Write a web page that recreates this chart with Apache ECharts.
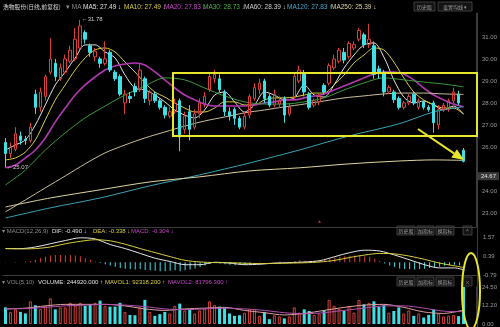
<!DOCTYPE html>
<html><head><meta charset="utf-8">
<script src="https://cdn.jsdelivr.net/npm/echarts@6/dist/echarts.min.js"></script>
<style>html,body{margin:0;padding:0;background:#000;}#c{width:500px;height:327px;}</style>
</head><body><div id="c"></div>
<script>
// ---------- data ----------
const categories = Array.from({length: 95}, (_, i) => 'D' + (i + 1));
// [open, close, low, high]
const ohlc = [
 [26.2,25.7,25.07,26.4],[25.7,26.0,25.5,26.2],[25.9,26.6,25.8,26.9],[26.5,26.3,26.1,26.7],[26.35,26.3,26.1,26.5],
 [26.3,26.9,26.2,27.1],[28.4,27.8,27.5,28.6],[27.8,28.5,27.6,28.7],[28.3,29.2,28.1,29.3],[29.4,30.0,29.3,30.95],
 [29.8,29.2,29.0,30.0],[29.1,29.6,29.0,29.8],[29.4,30.0,29.3,30.2],[29.9,30.4,29.8,30.6],[30.0,30.9,29.9,31.4],
 [30.5,31.5,30.4,31.78],[31.2,30.9,30.7,31.3],[30.6,30.3,30.1,30.7],[30.1,30.35,29.9,30.5],[30.0,29.8,29.6,30.1],
 [29.8,30.0,29.7,30.8],[30.3,29.5,29.4,30.4],[29.4,29.1,29.0,29.5],[29.2,28.4,28.3,29.3],[28.0,28.4,27.5,28.6],
 [28.3,28.2,28.0,28.5],[28.75,28.5,28.3,28.9],[28.6,29.5,28.5,29.8],[29.1,28.2,28.0,29.2],[28.1,28.5,27.9,28.6],
 [28.4,28.1,28.0,28.5],[28.1,27.8,27.7,28.2],[27.8,27.45,27.3,27.9],[27.4,27.6,27.3,27.8],[27.6,28.0,27.5,28.2],
 [28.1,26.45,25.8,28.2],[26.8,27.4,26.6,27.6],[27.6,26.8,26.3,27.9],[26.9,27.5,26.8,27.7],[27.5,28.0,27.3,28.2],
 [27.9,28.3,27.8,28.5],[28.6,29.2,28.5,29.4],[29.1,29.3,28.9,29.5],[29.1,28.6,28.5,29.3],[28.5,27.6,27.4,28.6],
 [27.6,27.4,27.2,27.8],[27.7,27.3,27.0,27.8],[27.3,26.9,26.8,27.4],[26.9,27.4,26.8,27.6],[27.45,28.3,27.3,28.4],
 [28.2,28.7,28.1,28.9],[28.6,28.9,28.4,29.1],[29.0,28.2,28.0,29.1],[28.3,27.9,27.8,28.4],[27.9,28.4,27.8,28.6],
 [27.95,28.1,27.8,28.3],[28.2,27.45,27.1,28.3],[27.5,27.8,27.4,28.0],[28.3,29.2,28.2,29.4],[29.0,29.5,28.9,29.7],
 [29.3,28.5,28.3,29.5],[28.4,27.8,27.7,28.5],[27.9,28.1,27.8,28.2],[28.05,28.3,27.9,28.4],[28.8,28.5,28.4,28.9],
 [28.9,29.7,28.8,29.8],[29.6,30.0,29.5,30.2],[29.9,30.4,29.8,30.5],[30.3,29.95,29.8,30.5],[30.1,30.7,30.0,30.8],
 [30.5,30.65,30.4,30.8],[30.9,31.3,30.8,31.4],[31.1,30.65,30.5,31.2],[30.65,30.9,30.5,31.6],[30.6,29.3,29.1,30.8],
 [29.55,29.4,29.1,29.7],[29.4,28.5,28.3,29.5],[28.5,28.7,28.4,28.8],[28.5,28.15,28.0,28.6],[28.2,27.8,27.7,28.3],
 [27.8,28.0,27.7,28.1],[28.0,28.3,27.9,28.4],[28.4,28.0,27.9,28.5],[27.8,28.1,27.7,28.2],[28.05,27.8,27.7,28.1],
 [27.8,27.7,27.6,27.9],[28.0,27.1,26.65,28.1],[27.0,27.7,26.8,27.9],[27.7,27.9,27.6,28.0],[27.7,28.1,27.6,28.2],
 [28.1,28.5,28.0,28.7],[28.4,28.0,27.9,28.55],[25.85,25.35,25.3,25.95]
];
// volume, 10k shares
const volume = [
 11,8,9.7,8,7,15,12.4,10,12,17,
 9.7,11,11,14,12,14,12,13,14,15.5,
 12,11.5,11.5,14,8,6,5.8,11,16,8,
 5.4,6.5,8,7,12,13.5,9,9.7,7,9,
 10,15,12.5,11.5,11,7,5.4,5.8,7.5,9.7,
 10,5.4,8,3.2,5.8,5,3.7,5,11,7.5,
 9.7,8.6,6,7,9,16,12,10,8.6,12,
 7.5,16,13,14,15,11.5,12.5,7.5,8.6,11,
 7,9,5.4,7,4.3,6,9.7,7,5,5.5,
 6,5.2,24.49
];
const macdHist = [
 0.02,0.0,-0.02,0.02,0.05,0.08,
 0.15,0.25,0.35,0.42,
 0.45,0.45,0.42,0.45,0.42,0.38,
 0.25,0.15,0.05,-0.05,-0.12,
 -0.2,-0.28,-0.35,-0.4,-0.42,
 -0.45,-0.42,-0.48,-0.5,-0.52,
 -0.55,-0.55,-0.52,-0.5,-0.55,
 -0.5,-0.45,-0.38,-0.3,-0.2,
 -0.1,-0.05,-0.08,-0.12,-0.15,
 -0.18,-0.15,-0.1,-0.05,0.0,
 0.03,0.0,-0.02,0.02,0.05,
 0.0,0.02,0.08,0.12,0.1,
 0.08,0.1,0.12,0.15,0.2,
 0.28,0.35,0.38,0.4,0.42,
 0.4,0.38,0.35,0.22,0.08,
 -0.08,-0.2,-0.3,-0.38,-0.42,
 -0.42,-0.45,-0.42,-0.4,-0.35,
 -0.32,-0.28,-0.22,-0.18,-0.15,
 -0.18,-0.304
];
// moving averages read at sampled candle positions
const idx2 = [0,2,4,6,8,10,12,14,16,18,20,22,24,26,28,30,32,34,36,38,40,42,44,46,48,50,52,54,56,58,60,62,64,66,68,70,72,74,76,78,80,82,84,86,88,90,92];
const ma5 = [25.86,26.09,26.32,27.0,27.91,28.82,29.41,30.05,30.64,30.64,30.32,30.05,29.27,28.68,28.59,28.36,28.05,27.68,27.45,27.32,27.68,28.36,28.5,28.05,27.59,27.91,28.5,28.36,28.14,28.23,28.82,28.36,28.27,28.82,29.59,30.18,30.64,30.73,30.09,29.05,28.27,28.0,28.09,27.91,27.68,27.86,27.49];
const ma10 = [25.41,25.5,25.77,26.32,27.23,28.14,28.82,29.5,30.05,30.41,30.5,30.32,29.86,29.41,28.91,28.5,28.27,28.0,27.77,27.59,27.59,27.77,28.05,28.05,27.91,27.91,28.14,28.23,28.23,28.27,28.36,28.45,28.45,28.82,29.27,29.82,30.18,30.5,30.41,29.86,29.14,28.5,28.14,27.91,27.77,27.77,27.49];
const ma20 = [25.05,25.18,25.5,25.86,26.41,27.14,27.77,28.36,28.82,29.18,29.5,29.68,29.77,29.82,29.73,29.41,29.05,28.68,28.36,28.14,27.95,27.86,27.86,27.86,27.86,27.91,28.0,28.05,28.14,28.14,28.23,28.32,28.41,28.59,28.77,28.95,29.14,29.32,29.41,29.41,29.32,29.05,28.68,28.36,28.14,27.95,27.83];
const idx4 = [0,4,8,12,16,20,24,28,32,36,40,44,48,52,56,60,64,68,72,76,80,84,88,92];
const ma30 = [24.27,24.95,25.86,26.64,27.32,27.86,28.36,28.77,29.14,29.05,28.68,28.32,28.05,27.95,27.95,28.05,28.23,28.59,28.91,29.14,29.05,28.95,28.86,28.73];
const ma60 = [23.05,23.59,24.14,24.68,25.23,25.73,26.09,26.41,26.68,26.95,27.18,27.36,27.55,27.68,27.82,27.95,28.09,28.23,28.32,28.41,28.45,28.45,28.41,28.39];
const idxLong = [0,9,19,29,39,49,59,69,79,86,92];
const ma120 = [22.77,23.23,23.68,24.23,24.73,25.27,25.86,26.5,27.05,27.59,27.83];
const ma250 = [23.27,23.68,24.05,24.41,24.64,24.91,25.05,25.23,25.36,25.41,25.39];
const idx3 = [0,3,6,9,12,15,18,21,24,27,30,33,36,39,42,45,48,51,54,57,60,63,66,69,72,75,78,81,84,87,90,92];
const dif = [0.85,0.85,0.95,1.15,1.35,1.52,1.45,1.1,0.85,0.55,0.25,0.05,-0.15,-0.15,0.0,-0.05,-0.15,-0.12,-0.05,-0.02,0.02,0.1,0.35,0.6,0.75,0.7,0.45,0.15,-0.15,-0.35,-0.35,-0.49];
const dea = [0.85,0.83,0.85,0.95,1.15,1.3,1.4,1.33,1.12,0.85,0.6,0.35,0.12,0.02,-0.02,-0.03,-0.06,-0.08,-0.07,-0.05,-0.03,0.02,0.12,0.3,0.45,0.55,0.52,0.38,0.18,-0.05,-0.22,-0.338];
const mavol1 = [10,10.5,12,13,13,13,12,10,9,10,10.5,11,9,7.5,6,7,9,11,12.5,13,11,8,7,9.23];
const mavol2 = [10,10.2,11,12,12.5,13,12.5,11.5,10,9.5,10,10.5,10,9,7.5,6.8,7.5,9,10.5,12,12,10.5,8.5,8.18];
const priceTicks = [23,24,26,27,28,29,30,31];
const macdTicks = [-0.79,0.39,1.57];
const volTicks = [0,12.2,24.5];
const highMark = [15, 31.78];
const lowMark = [0, 25.07];
const lastPriceTag = 24.67;

// ---------- chart ----------
const FONT = '"Liberation Sans", Arial, sans-serif';
const CJK = '"Noto Sans CJK SC", sans-serif';
const UP = '#d8403c', DOWN = '#3ee0e6', SEP = '#3c3c3c', YEL = '#e8e62a';
const pairs = (idx, vals) => idx.map((k, j) => [k, vals[j]]);

const volData = volume.map((v, i) => {
  const up = ohlc[i][1] >= ohlc[i][0];
  return {value: v, itemStyle: up ? {color: 'rgba(0,0,0,0)', borderColor: UP, borderWidth: 1} : {color: DOWN}};
});
const histData = macdHist.map(v => ({value: v, itemStyle: {color: v >= 0 ? UP : DOWN}}));

function lineS(data, color, ai, width) {
  return {type: 'line', xAxisIndex: ai, yAxisIndex: ai, data, symbol: 'none', smooth: 0.3,
    lineStyle: {color, width: width || 1}, silent: true, z: 3};
}
function xAx(gi, showLine) {
  return {type: 'category', gridIndex: gi, data: categories, boundaryGap: true,
    axisLabel: {show: false}, axisTick: {show: false}, splitLine: {show: false},
    axisLine: {show: showLine, onZero: false, lineStyle: {color: SEP}}};
}
function yAx(gi, min, max, ticks) {
  return {type: 'value', gridIndex: gi, position: 'right', min, max,
    splitLine: {show: false}, axisTick: {show: false},
    axisLine: {show: true, lineStyle: {color: SEP}},
    axisLabel: {customValues: ticks, formatter: v => v.toFixed(2), color: '#9a9a9a', fontSize: 6, margin: 6, fontFamily: FONT}};
}

function txt(x, y, t, color, font, size) {
  return {type: 'text', x, y, z: 100, silent: true,
    style: {text: t, fill: color, font: (size || 6.5) + 'px ' + (font || FONT), verticalAlign: 'middle', align: 'left'}};
}
function btn(x, y, w, h, t) {
  return {type: 'group', x, y, z: 100, silent: true, children: [
    {type: 'rect', shape: {x: 0, y: 0, width: w, height: h}, style: {fill: '#141414', stroke: '#4a4a4a', lineWidth: 0.8}},
    {type: 'text', x: w / 2, y: h / 2 + 0.5, style: {text: t, fill: '#a0a0a0', font: '5px ' + CJK, align: 'center', verticalAlign: 'middle'}}
  ]};
}

const graphics = [
  txt(3, 7, '浩物股份(日线,前复权)', '#d8d8d8', CJK, 5.8),
  txt(66, 7, '▾ MA', '#8c8c8c'),
  txt(83, 7, 'MA5: 27.49 ↓', '#e0e0e0'),
  txt(124, 7, 'MA10: 27.49 ↓', '#d8d040'),
  txt(164, 7, 'MA20: 27.83 ↓', '#c848c8'),
  txt(203, 7, 'MA30: 28.73 ↓', '#48b848'),
  txt(244, 7, 'MA60: 28.39 ↓', '#d0d0d0'),
  txt(287, 7, 'MA120: 27.83 ↑', '#48aac8'),
  txt(331, 7, 'MA250: 25.39 ↓', '#dcd4a4'),
  btn(414, 2, 21, 9, '历史股'), btn(438, 2, 34, 9, '设置均线 ▾'),
  txt(2, 231, '▾ MACD(12,26,9)', '#8c8c8c', FONT, 6),
  txt(52, 231, 'DIF: -0.490 ↓', '#e0e0e0', FONT, 6),
  txt(93, 231, 'DEA: -0.338 ↓', '#d8d040', FONT, 6),
  txt(131, 231, 'MACD: -0.304 ↓', '#c848c8', FONT, 6),
  btn(397, 226, 18, 9, '历史股'), btn(417, 226, 17, 9, '加指标'), btn(436, 226, 18, 9, '换指标'), btn(463, 226, 9, 9, '^'),
  txt(2, 282, '▾ VOL(5,10)', '#8c8c8c', FONT, 6),
  txt(38, 282, 'VOLUME: 244920.000 ↑', '#e0e0e0', FONT, 6),
  txt(105, 282, 'MAVOL1: 92318.200 ↑', '#d8d040', FONT, 6),
  txt(168, 282, 'MAVOL2: 81796.300 ↑', '#c848c8', FONT, 6),
  btn(397, 277, 18, 9, '历史股'), btn(417, 277, 17, 9, '加指标'), btn(436, 277, 18, 9, '换指标'), btn(463, 277, 9, 9, '×'),
  txt(317, 222, '▲', '#b02828', FONT, 5),
  {type: 'line', z: 90, silent: true, shape: {x1: 477.5, y1: 13, x2: 477.5, y2: 327}, style: {stroke: SEP, lineWidth: 1}},
  // yellow hand-drawn annotations
  {type: 'rect', z: 95, silent: true, shape: {x: 173, y: 73, width: 304, height: 63}, style: {fill: 'none', stroke: YEL, lineWidth: 2}},
  {type: 'line', z: 95, silent: true, shape: {x1: 418, y1: 129, x2: 454, y2: 153.3}, style: {stroke: YEL, lineWidth: 2}},
  {type: 'polygon', z: 95, silent: true, shape: {points: [[464, 160], [451.3, 157.5], [456.9, 149.2]]}, style: {fill: YEL}},
  {type: 'ellipse', z: 95, silent: true, shape: {cx: 471, cy: 291, rx: 9, ry: 38}, style: {fill: 'none', stroke: YEL, lineWidth: 2}}
];

const option = {
  backgroundColor: '#000',
  animation: false,
  grid: [
    {left: 3, right: 23, top: 13, height: 214},
    {left: 3, right: 23, top: 237, height: 38},
    {left: 3, right: 23, top: 287, height: 38}
  ],
  xAxis: [xAx(0, true), xAx(1, true), xAx(2, false)],
  yAxis: [yAx(0, 22.36, 32.09, priceTicks), yAx(1, -0.79, 1.57, macdTicks), yAx(2, 0, 24.5, volTicks)],
  series: [
    {type: 'candlestick', xAxisIndex: 0, yAxisIndex: 0, data: ohlc, barWidth: 3, z: 4, silent: true,
      itemStyle: {color: 'rgba(0,0,0,0)', color0: DOWN, borderColor: UP, borderColor0: DOWN, borderWidth: 1},
      markPoint: {symbol: 'circle', symbolSize: 1, silent: true, itemStyle: {color: 'rgba(0,0,0,0)'},
        label: {show: true, position: 'right', color: '#cfcfcf', fontSize: 6, distance: 1, fontFamily: FONT},
        data: [{coord: highMark, label: {formatter: '←' + highMark[1].toFixed(2)}},
               {coord: lowMark, label: {formatter: '←' + lowMark[1].toFixed(2)}}]}
    },
    lineS(pairs(idx2, ma5), '#e6e6e6', 0),
    lineS(pairs(idx2, ma10), '#d8d040', 0),
    lineS(pairs(idx2, ma20), '#b038b0', 0, 1.6),
    lineS(pairs(idx4, ma30), '#3c9c3c', 0),
    lineS(pairs(idx4, ma60), '#cbbf9a', 0),
    lineS(pairs(idxLong, ma120), '#3aa2b4', 0),
    lineS(pairs(idxLong, ma250), '#ddd5a0', 0),
    {type: 'bar', xAxisIndex: 1, yAxisIndex: 1, data: histData, barWidth: 1, silent: true, z: 2},
    lineS(pairs(idx3, dif), '#e6e6e6', 1),
    lineS(pairs(idx3, dea), '#d8d040', 1),
    {type: 'bar', xAxisIndex: 2, yAxisIndex: 2, data: volData, barWidth: 3, silent: true, z: 2},
    lineS(pairs(idx4, mavol1), '#e0a0a0', 2),
    lineS(pairs(idx4, mavol2), '#b050b0', 2)
  ],
  graphic: graphics
};
const chart = echarts.init(document.getElementById('c'));
chart.setOption(option);
// current-price tag on the price axis, positioned through the axis scale
const tagY = chart.convertToPixel({yAxisIndex: 0}, lastPriceTag);
chart.setOption({graphic: graphics.concat([{
  type: 'group', x: 478, y: tagY - 4, z: 100, silent: true, children: [
    {type: 'rect', shape: {x: 0, y: 0, width: 21, height: 8}, style: {fill: '#3a3a3a'}},
    {type: 'text', x: 10.5, y: 4.5, style: {text: lastPriceTag.toFixed(2), fill: '#e0e0e0', font: '6px ' + FONT, align: 'center', verticalAlign: 'middle'}}
  ]}])}, {replaceMerge: ['graphic']});
</script></body></html>
